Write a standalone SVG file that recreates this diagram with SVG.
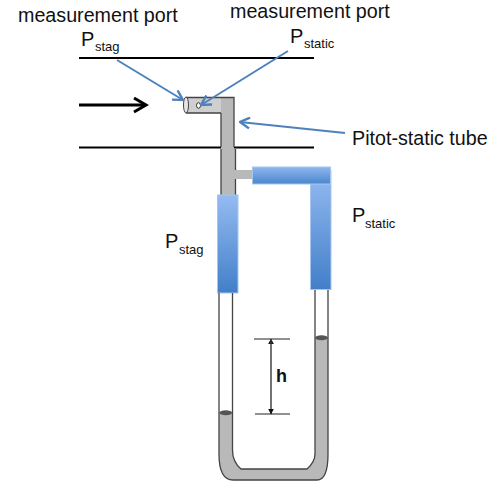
<svg xmlns="http://www.w3.org/2000/svg" width="493" height="491" viewBox="0 0 493 491">
<style>
text{font-family:"Liberation Sans",Arial,sans-serif;fill:#111}
.l{font-size:19.700px}.p{font-size:20px}.s{font-size:13px}
.duct{stroke:#000;stroke-width:2;fill:none}
.ptr{stroke:#4f81bd;stroke-width:2;fill:none;marker-end:url(#b)}
.t{fill:#b9b9b9}
.e{stroke:#444;stroke-width:1.300;fill:none}
.blue{stroke:#a6c6ee;stroke-width:1}
</style>
<defs>
<linearGradient id="g" x1="0" y1="0" x2="0" y2="1"><stop offset="0" stop-color="#95bbf2"/><stop offset="1" stop-color="#427fc8"/></linearGradient>
<linearGradient id="g2" x1="0" y1="0" x2="0" y2="1"><stop offset="0" stop-color="#8fb6ee"/><stop offset="1" stop-color="#4a86cd"/></linearGradient>
<marker id="b" viewBox="0 0 10 10" refX="9" refY="5" markerWidth="12" markerHeight="12" markerUnits="userSpaceOnUse" orient="auto"><path d="M1 0.500L9 5L1 9.500" fill="none" stroke="#4f81bd" stroke-width="2"/></marker>
<marker id="h" viewBox="0 0 10 10" refX="9" refY="5" markerWidth="6" markerHeight="6" markerUnits="userSpaceOnUse" orient="auto"><path d="M0 0L10 5L0 10Z" fill="#111"/></marker>
</defs>
<g id="duct">
<path class="duct" d="M79 58H314"/><path class="duct" d="M79 147.500H314"/>
</g>
<g id="flow-arrow">
<path d="M79 105H145" stroke="#000" stroke-width="3" fill="none"/>
<path d="M134 98L146 105L134 112" stroke="#000" stroke-width="3" fill="none"/>
</g>
<g id="pitot-tube">
<path class="t" d="M186 97.500H234V149H235.500V195H221V113H186Z"/>
<path fill="#cfcfcf" d="M186 98H221V112.500H186Z"/>
<path class="e" d="M186 97.500H234V147M221 113H186M221 113V147M221 149V195M235.500 149V170M235.500 179V195"/>
<ellipse cx="186" cy="105" rx="2.500" ry="8" fill="#e6e6e6" stroke="#444"/>
<ellipse cx="198.500" cy="105.500" rx="2" ry="2.800" fill="#fff" stroke="#333"/>
<rect class="t" x="235" y="170" width="19" height="9"/>
</g>
<g id="right-column">
<rect class="blue" x="310.500" y="170.500" width="20.500" height="119" fill="url(#g)"/>
</g>
<g id="top-bar">
<rect class="blue" x="252.500" y="167" width="78" height="17" fill="url(#g2)"/>
</g>
<g id="left-column">
<rect class="blue" x="217.500" y="195" width="20.500" height="98" fill="url(#g)"/>
</g>
<g id="manometer">
<path class="t" d="M219 412V454Q219 480 233 480H317Q328 480 328 454V337H315V454Q315 462 307 469H241Q232.500 462 232.500 450V412Z"/>
<path class="e" d="M219 293V454Q219 480 233 480H317Q328 480 328 454V290M232.500 293V450Q232.500 462 241 469H307Q315 462 315 454V290"/>
<ellipse cx="225.800" cy="412.700" rx="6.300" ry="2.500" fill="#555"/>
<ellipse cx="321.500" cy="337.700" rx="6.300" ry="2.500" fill="#555"/>
</g>
<g id="connectors">
<path class="ptr" d="M117 60L183 100"/>
<path class="ptr" d="M288 51L201 105"/>
<path class="ptr" d="M345 133L240 122"/>
<path d="M254 339H290M255 414H290" stroke="#222" stroke-width="1" fill="none"/>
<path d="M271 414V339" stroke="#444" stroke-width="1" marker-end="url(#h)" fill="none"/>
<path d="M271 339V414" stroke="#444" stroke-width="1" marker-end="url(#h)" fill="none"/>
</g>
<g id="labels">
<text class="l" x="18" y="22">measurement port</text>
<text class="l" x="230" y="18">measurement port</text>
<text class="p" x="81" y="46">P</text><text class="s" x="95" y="51">stag</text>
<text class="p" x="290" y="43">P</text><text class="s" x="304" y="48">static</text>
<text class="l" x="352" y="145">Pitot-static tube</text>
<text class="p" x="352" y="222">P</text><text class="s" x="365" y="228">static</text>
<text class="p" x="165" y="248">P</text><text class="s" x="179" y="254">stag</text>
<text x="276" y="382" font-size="18" font-weight="700">h</text>
</g>
</svg>
